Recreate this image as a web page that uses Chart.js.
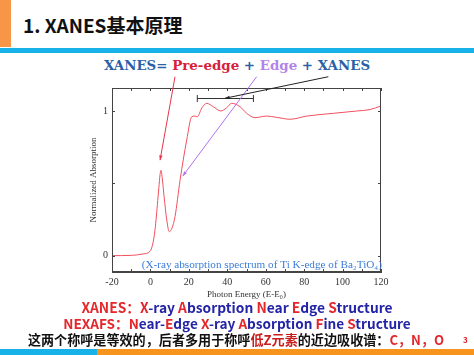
<!DOCTYPE html>
<html>
<head>
<meta charset="utf-8">
<script src="https://cdn.jsdelivr.net/npm/chart.js@4/dist/chart.umd.min.js"></script>
<style>
	body { margin: 0; width: 474px; height: 355px; position: relative; background: #fff; overflow: hidden; font-family: "Noto Sans CJK SC", "Noto Sans", sans-serif; }
	.abs { position: absolute; }
	#titleBar { left: 0; top: 0; width: 11px; height: 47px; background: #f79646; }
	#title { left: 23px; top: 12px; font-size: 19px; font-weight: 700; color: #111; line-height: 26px; }
	#blueLine { left: 0; top: 48px; width: 474px; height: 5px; background: #19b2e8; }
	#heading { left: 0; width: 474px; top: 56px; text-align: center; font-family: "DejaVu Serif", serif; font-weight: bold; font-size: 13.4px; color: #2b5fa6; line-height: 18px; }
	#chartBox { left: 80px; top: 55px; width: 320px; height: 247px; }
	.line { left: 0; width: 474px; text-align: center; font-weight: 700; line-height: 17px; }
	#l1 { top: 299px; font-size: 13.8px; color: #2424a6; }
	#l2 { top: 315px; font-size: 13.6px; color: #2424a6; }
	#l3 { top: 331px; left: -1px; font-size: 13.1px; color: #111; }
	.r { color: #e5262b; }
	.dr { color: #c8201f; }
	#pageNo { left: 463px; top: 334px; font-size: 8px; color: #e5262b; font-weight: 700; }
	#barBlue { left: 0; top: 349px; width: 97px; height: 6px; background: #19b2e8; }
	#barOrange { left: 97px; top: 349px; width: 377px; height: 6px; background: #f7941d; }
</style>
</head>
<body>
<div id="titleBar" class="abs"></div>
<div id="title" class="abs">1. XANES基本原理</div>
<div id="blueLine" class="abs"></div>
<div id="heading" class="abs">XANES= <span style="color:#d6203c">Pre-edge</span> + <span style="color:#b383e8">Edge</span> + XANES</div>
<div id="chartBox" class="abs"><canvas id="xanesChart" width="320" height="247"></canvas></div>
<div id="l1" class="abs line"><span class="r">XANES：X</span>-ray <span class="r">A</span>bsorption <span class="r">N</span>ear <span class="r">E</span>dge <span class="r">S</span>tructure</div>
<div id="l2" class="abs line"><span class="r">NEXAFS：N</span>ear-<span class="r">E</span>dge <span class="r">X</span>-ray <span class="r">A</span>bsorption <span class="r">F</span>ine <span class="r">S</span>tructure</div>
<div id="l3" class="abs line">这两个称呼是等效的，后者多用于称呼<span class="dr">低Z元素</span>的近边吸收谱：<span class="r">C，N，O</span></div>
<div id="pageNo" class="abs">3</div>
<div id="barBlue" class="abs"></div>
<div id="barOrange" class="abs"></div>

<script>
// spectrum (E - E0 in eV, normalized absorption)
const energy = [-20, -10, -3.7, -0.2, 1.2, 2.4, 3.8, 4.4, 5.0, 5.5, 6.2, 7.1, 8.5, 9.8, 11.2, 12.8, 15.4, 18.9, 21.5, 23.2, 24.4, 26.7, 29.3, 32.7, 36.6, 39.5, 42.3, 46.6, 50.1, 54.4, 60.5, 65.7, 72.7, 81.4, 95.2, 107.4, 114.3, 120];
const absorption = [0, 0.002, 0.012, 0.03, 0.08, 0.18, 0.38, 0.47, 0.56, 0.59, 0.53, 0.41, 0.247, 0.166, 0.19, 0.27, 0.52, 0.80, 0.96, 0.965, 0.96, 1.02, 1.053, 1.03, 1.00, 1.02, 1.053, 1.03, 0.984, 0.954, 0.965, 0.956, 0.943, 0.965, 0.984, 1.0, 1.01, 1.035];

const xTickValues = [-20, 0, 20, 40, 60, 80, 100, 120];
const yTickValues = [0, 1];

// XANES range bar (x from, x to, y)
const rangeBar = [24.4, 53.6, 1.088];

// arrows: [x start, y start, x end, y end, colour]
const arrows = [
	[12.8, 1.237, 5.0, 0.66, '#e8344a'],
	[55.3, 1.237, 16.8, 0.55, '#b070f0'],
	[92.6, 1.237, 38.8, 1.088, '#222']
];

const caption = '(X-ray absorption spectrum of Ti K-edge of Ba₂TiO₄)';

const serif = "'Liberation Serif', 'DejaVu Serif', serif";

function drawArrow(ctx, x1, y1, x2, y2, colour)
{
	const ang = Math.atan2(y2 - y1, x2 - x1);
	ctx.strokeStyle = colour;
	ctx.fillStyle = colour;
	ctx.lineWidth = 1;
	ctx.beginPath();
	ctx.moveTo(x1, y1);
	ctx.lineTo(x2, y2);
	ctx.stroke();
	ctx.beginPath();
	ctx.moveTo(x2, y2);
	ctx.lineTo(x2 - 5 * Math.cos(ang - 0.35), y2 - 5 * Math.sin(ang - 0.35));
	ctx.lineTo(x2 - 5 * Math.cos(ang + 0.35), y2 - 5 * Math.sin(ang + 0.35));
	ctx.closePath();
	ctx.fill();
}

const framePlugin = {
	id: 'frame',
	afterDraw(chart) {
		const ctx = chart.ctx;
		const a = chart.chartArea;
		const xs = chart.scales.x;
		const ys = chart.scales.y;
		ctx.save();

		// box round the plot, matlab style
		ctx.strokeStyle = '#444';
		ctx.lineWidth = 1;
		ctx.strokeRect(a.left + 0.5, a.top + 0.5, a.right - a.left - 1, a.bottom - a.top - 1);

		// inward ticks
		ctx.beginPath();
		for (let v = -20; v <= 120; v += 10) {
			let px = Math.round(xs.getPixelForValue(v)) + 0.5;
			ctx.moveTo(px, a.bottom); ctx.lineTo(px, a.bottom - 3);
			ctx.moveTo(px, a.top); ctx.lineTo(px, a.top + 3);
		}
		for (let v = 0; v <= 1; v += 0.5) {
			let py = Math.round(ys.getPixelForValue(v)) + 0.5;
			ctx.moveTo(a.left, py); ctx.lineTo(a.left + 3, py);
			ctx.moveTo(a.right, py); ctx.lineTo(a.right - 3, py);
		}
		ctx.stroke();

		// caption
		ctx.fillStyle = '#3b7dd8';
		ctx.font = '11.2px ' + serif;
		ctx.textAlign = 'right';
		ctx.textBaseline = 'middle';
		ctx.fillText(caption, a.right + 1, a.bottom - 7);

		// range bar with end caps
		let bx1 = xs.getPixelForValue(rangeBar[0]);
		let bx2 = xs.getPixelForValue(rangeBar[1]);
		let by = Math.round(ys.getPixelForValue(rangeBar[2])) + 0.5;
		ctx.strokeStyle = '#333';
		ctx.beginPath();
		ctx.moveTo(bx1, by); ctx.lineTo(bx2, by);
		ctx.moveTo(bx1, by - 3.5); ctx.lineTo(bx1, by + 3.5);
		ctx.moveTo(bx2, by - 3.5); ctx.lineTo(bx2, by + 3.5);
		ctx.stroke();

		arrows.forEach((ar) => {
			drawArrow(ctx, xs.getPixelForValue(ar[0]), ys.getPixelForValue(ar[1]),
				xs.getPixelForValue(ar[2]), ys.getPixelForValue(ar[3]), ar[4]);
		});

		ctx.restore();
	}
};

new Chart(document.getElementById('xanesChart'), {
	type: 'line',
	data: {
		datasets: [{
			data: energy.map((e, i) => ({ x: e, y: absorption[i] })),
			borderColor: '#f0505e',
			borderWidth: 1,
			pointRadius: 0,
			cubicInterpolationMode: 'monotone',
			fill: false
		}]
	},
	options: {
		responsive: false,
		animation: false,
		events: [],
		layout: { padding: { top: 33, right: 19, left: 0, bottom: 2 } },
		plugins: { legend: { display: false }, tooltip: { enabled: false } },
		scales: {
			x: {
				type: 'linear',
				min: -20,
				max: 120,
				afterBuildTicks: (s) => { s.ticks = xTickValues.map(v => ({ value: v })); },
				afterFit: (s) => { s.height = 28; },
				grid: { drawOnChartArea: false, drawTicks: false },
				border: { color: '#444' },
				ticks: { color: '#333', font: { family: serif, size: 10 }, padding: 4, maxRotation: 0 },
				title: { display: true, text: 'Photon Energy (E-E₀)', color: '#333', font: { family: serif, size: 9 }, padding: { top: 0, bottom: 0 } }
			},
			y: {
				min: -0.113,
				max: 1.159,
				afterBuildTicks: (s) => { s.ticks = yTickValues.map(v => ({ value: v })); },
				afterFit: (s) => { s.width = 32; },
				grid: { drawOnChartArea: false, drawTicks: false },
				border: { color: '#444' },
				ticks: { color: '#333', font: { family: serif, size: 10 }, padding: 4 },
				title: { display: true, text: 'Normalized Absorption', color: '#333', font: { family: serif, size: 9 }, padding: { top: 8, bottom: 0 } }
			}
		}
	},
	plugins: [framePlugin]
});
</script>
</body>
</html>
